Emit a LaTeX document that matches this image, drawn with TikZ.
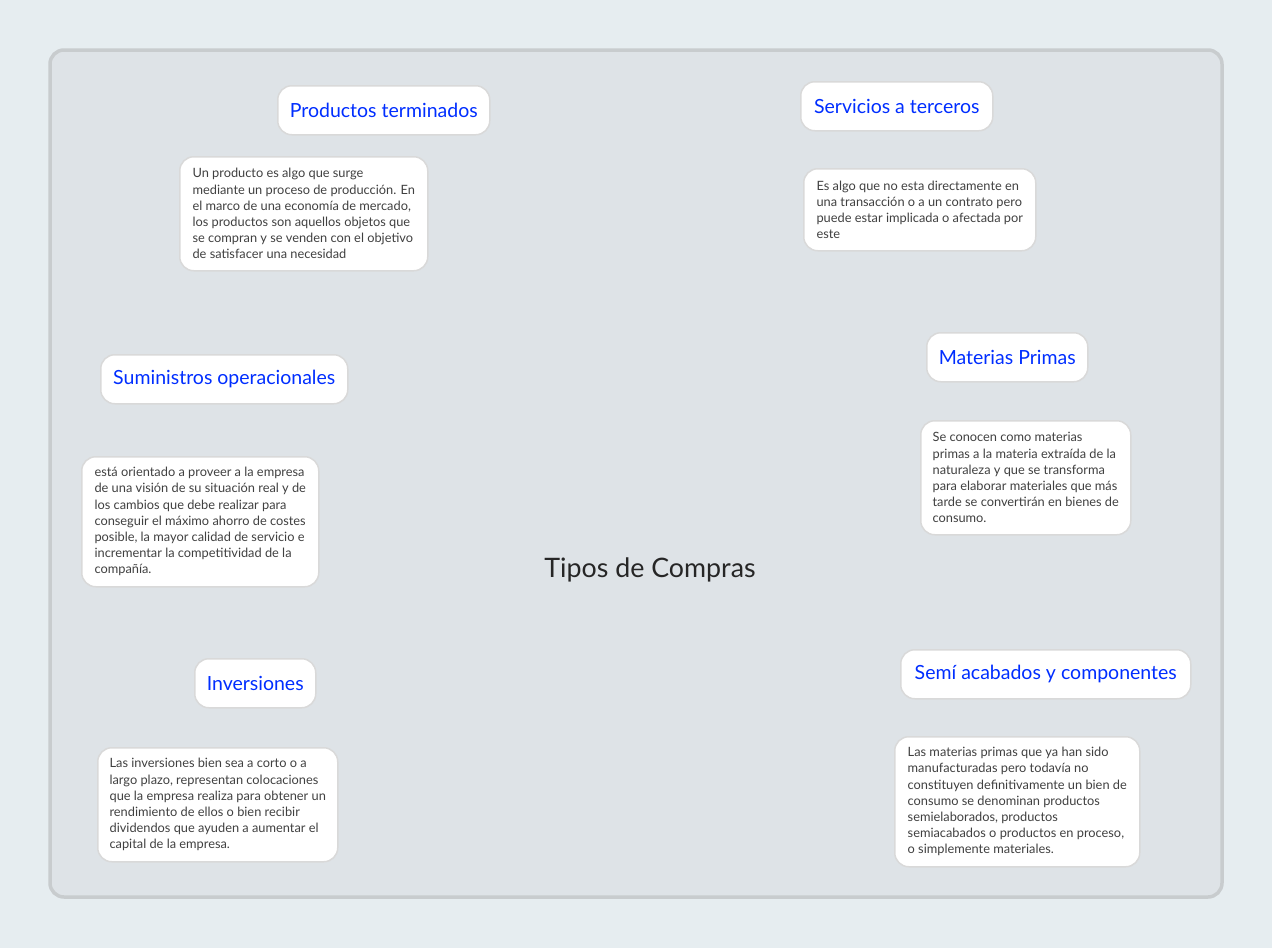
\documentclass[tikz,border=0pt]{standalone}
\usepackage{fontspec}
\setmainfont{Lato}
\usetikzlibrary{backgrounds}
\begin{document}
\begin{tikzpicture}[x=1pt,y=-1pt,
 title/.style={draw=black!15,line width=1.5pt,fill=white,rounded corners=14pt,text=blue!70!cyan!60!blue,font=\fontsize{19.5}{21}\selectfont,minimum height=49pt,inner xsep=12pt,anchor=north west},
 desc/.style={draw=black!15,line width=1.5pt,fill=white,rounded corners=14pt,text=black!75,font=\fontsize{12.8}{16.2}\selectfont,align=left,anchor=north west,inner xsep=6pt,inner ysep=6pt},
 ul/.style={draw=black!20,line width=1.6pt},
 br/.style={draw=black!20,line width=1.8pt}]
\useasboundingbox (0,0) rectangle (1272,948);
\fill[color={rgb,255:red,230;green,237;blue,240}] (0,0) rectangle (1272,948);
\draw[line width=3.5pt,draw={rgb,255:red,200;green,204;blue,206},fill={rgb,255:red,222;green,227;blue,231},rounded corners=14pt] (50,50) rectangle (1222,897);
\node[font=\fontsize{26.8}{28}\selectfont,text=black!85] (c) at (650,570) {Tipos de Compras};
\coordinate (h1) at (640,540);\coordinate (h2) at (628,540);\coordinate (h3) at (648,538);\coordinate (h4) at (656,538);
\coordinate (h5) at (668,538);\coordinate (h6) at (772,550);\coordinate (h7) at (675,602);\coordinate (h8) at (658,604);
\coordinate (h9) at (620,540);\coordinate (h10) at (527,580);\coordinate (h11) at (620,603);\coordinate (h12) at (638,603);
% left
\node[title,minimum width=212pt] (t1) at (277,85) {Productos terminados};
\node[desc,minimum width=248pt,minimum height=114pt] (d1) at (179,156) {Un producto es algo que surge\\mediante un proceso de producción. En\\el marco de una economía de mercado,\\los productos son aquellos objetos que\\se compran y se venden con el objetivo\\de satisfacer una necesidad};
\node[title,minimum width=247pt] (t3) at (100,354) {Suministros operacionales};
\node[desc,minimum width=237pt,minimum height=130pt] (d3) at (81,456) {está orientado a proveer a la empresa\\de una visión de su situación real y de\\los cambios que debe realizar para\\conseguir el máximo ahorro de costes\\posible, la mayor calidad de servicio e\\incrementar la competitividad de la\\compañía.};
\node[title,minimum width=121pt] (t5) at (194,658) {Inversiones};
\node[desc,minimum width=240pt,minimum height=114pt] (d5) at (97,747) {Las inversiones bien sea a corto o a\\largo plazo, representan colocaciones\\que la empresa realiza para obtener un\\rendimiento de ellos o bien recibir\\dividendos que ayuden a aumentar el\\capital de la empresa.};
% right
\node[title,minimum width=192pt] (t2) at (800,81) {Servicios a terceros};
\node[desc,minimum width=232pt,minimum height=82pt] (d2) at (803,168) {Es algo que no esta directamente en\\una transacción o a un contrato pero\\puede estar implicada o afectada por\\este};
\node[title,minimum width=159pt] (t4) at (926,332) {Materias Primas};
\node[desc,minimum width=210pt,minimum height=114pt] (d4) at (920,420) {Se conocen como materias\\primas a la materia extraída de la\\naturaleza y que se transforma\\para elaborar materiales que más\\tarde se convertirán en bienes de\\consumo.};
\node[title,minimum width=290pt] (t6) at (900,649) {Semí acabados y componentes};
\node[desc,minimum width=245pt,minimum height=130pt] (d6) at (894,736) {Las materias primas que ya han sido\\manufacturadas pero todavía no\\constituyen definitivamente un bien de\\consumo se denominan productos\\semielaborados, productos\\semiacabados o productos en proceso,\\o simplemente materiales.};
\begin{scope}[on background layer]
\coordinate (a1) at (277,136);\coordinate (b1) at (505,136);
\draw[ul] (a1)--(b1); \draw[br] (b1) .. controls (590,140) and (625,430) .. (h1);
\coordinate (a2) at (179,273);\coordinate (b2) at (425,273);
\draw[ul] (a2)--(b2); \draw[br] (b2) .. controls (540,275) and (610,440) .. (h2);
\coordinate (a3) at (99,405);\coordinate (b3) at (345,405);
\draw[ul] (a3)--(b3); \draw[br] (b3) .. controls (490,405) and (580,460) .. (h9);
\coordinate (a4) at (80,589);\coordinate (b4) at (320,589);
\draw[ul] (a4)--(b4); \draw[br] (b4) .. controls (380,590) and (460,585) .. (h10);
\coordinate (a5) at (192,709);\coordinate (b5) at (315,709);
\draw[ul] (a5)--(b5); \draw[br] (b5) .. controls (470,709) and (560,660) .. (h11);
\coordinate (a6) at (95,864);\coordinate (b6) at (337,864);
\draw[ul] (a6)--(b6); \draw[br] (b6) .. controls (520,864) and (610,720) .. (h12);
\coordinate (a7) at (800,132);\coordinate (b7) at (993,132);
\draw[ul] (a7)--(b7); \draw[br] (a7) .. controls (710,135) and (665,420) .. (h3);
\coordinate (a8) at (803,253);\coordinate (b8) at (1037,253);
\draw[ul] (a8)--(b8); \draw[br] (a8) .. controls (710,255) and (675,440) .. (h4);
\coordinate (a9) at (926,383);\coordinate (b9) at (1086,383);
\draw[ul] (a9)--(b9); \draw[br] (a9) .. controls (790,385) and (710,470) .. (h5);
\coordinate (a10) at (920,537);\coordinate (b10) at (1133,537);
\draw[ul] (a10)--(b10); \draw[br] (a10) .. controls (860,537) and (800,543) .. (h6);
\coordinate (a11) at (900,701);\coordinate (b11) at (1192,701);
\draw[ul] (a11)--(b11); \draw[br] (a11) .. controls (780,701) and (710,640) .. (h7);
\coordinate (a12) at (894,869);\coordinate (b12) at (1140,869);
\draw[ul] (a12)--(b12); \draw[br] (a12) .. controls (720,869) and (670,720) .. (h8);
\end{scope}
\end{tikzpicture}
\end{document}
